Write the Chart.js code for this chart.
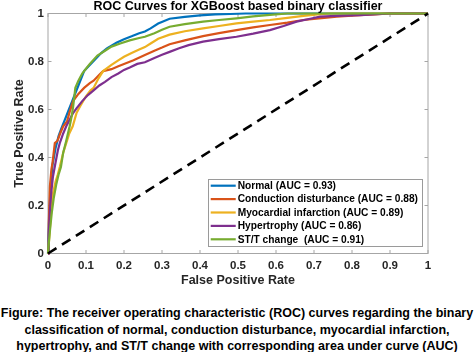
<!DOCTYPE html>
<html>
<head>
<meta charset="utf-8">
<title>ROC Curves for XGBoost based binary classifier</title>
<script src="https://cdn.jsdelivr.net/npm/chart.js@4.4.1/dist/chart.umd.min.js"></script>
<style>
    html, body { margin: 0; padding: 0; background: #fff; overflow: hidden; }
    body { width: 474px; height: 352px; position: relative; }
    #roc { position: absolute; left: 0; top: 0; }
    .caption {
        position: absolute;
        left: 237px;
        top: 305px;
        transform: translateX(-50%);
        width: max-content;
        white-space: nowrap;
        text-align: center;
        font: bold 12.5px 'Liberation Sans', Arial, sans-serif;
        line-height: 16.5px;
        color: #000;
    }
</style>
</head>
<body>
<canvas id="roc" width="474" height="292"></canvas>
<div class="caption">
    Figure: The receiver operating characteristic (ROC) curves regarding the binary<br>
    classification of normal, conduction disturbance, myocardial infarction,<br>
    hypertrophy, and ST/T change with corresponding area under curve (AUC)
</div>
<script>
const chartTitle = 'ROC Curves for XGBoost based binary classifier';
const xAxisTitle = 'False Positive Rate';
const yAxisTitle = 'True Positive Rate';
const xTickLabels = ['0', '0.1', '0.2', '0.3', '0.4', '0.5', '0.6', '0.7', '0.8', '0.9', '1'];
const yTickLabels = ['0', '0.2', '0.4', '0.6', '0.8', '1'];

const classLabels = [
    'Normal (AUC = 0.93)',
    'Conduction disturbance (AUC = 0.88)',
    'Myocardial infarction (AUC = 0.89)',
    'Hypertrophy (AUC = 0.86)',
    'ST/T change  (AUC = 0.91)',
];
const classColors = ['#0072bd', '#d95319', '#edb120', '#7e2f8e', '#77ac30'];

const normalFpr = [0, 0.003, 0.008, 0.012, 0.02, 0.028, 0.035, 0.045, 0.055, 0.065, 0.08, 0.095, 0.11, 0.125, 0.14, 0.155, 0.167, 0.18, 0.2, 0.22, 0.24, 0.255, 0.27, 0.29, 0.32, 0.36, 0.4, 0.44, 0.48, 0.52, 0.6, 1];
const normalTpr = [0, 0.15, 0.3, 0.37, 0.44, 0.49, 0.52, 0.56, 0.6, 0.64, 0.7, 0.76, 0.785, 0.81, 0.835, 0.855, 0.866, 0.878, 0.893, 0.905, 0.918, 0.925, 0.938, 0.958, 0.978, 0.986, 0.992, 0.996, 0.998, 1, 1, 1];

const conductionFpr = [0, 0.002, 0.005, 0.009, 0.012, 0.018, 0.025, 0.032, 0.04, 0.05, 0.057, 0.066, 0.08, 0.095, 0.11, 0.12, 0.135, 0.145, 0.167, 0.185, 0.2, 0.225, 0.255, 0.28, 0.3, 0.32, 0.36, 0.408, 0.45, 0.496, 0.54, 0.584, 0.63, 0.672, 0.72, 0.76, 0.81, 0.86, 0.9, 1];
const conductionTpr = [0, 0.12, 0.28, 0.35, 0.38, 0.46, 0.47, 0.5, 0.53, 0.55, 0.59, 0.635, 0.665, 0.69, 0.71, 0.72, 0.745, 0.76, 0.768, 0.78, 0.79, 0.805, 0.827, 0.845, 0.858, 0.872, 0.888, 0.906, 0.918, 0.931, 0.942, 0.952, 0.962, 0.973, 0.981, 0.987, 0.992, 0.996, 1, 1];

const infarctionFpr = [0, 0.004, 0.008, 0.013, 0.02, 0.026, 0.031, 0.04, 0.048, 0.056, 0.065, 0.075, 0.085, 0.1, 0.112, 0.12, 0.133, 0.145, 0.167, 0.185, 0.2, 0.22, 0.24, 0.255, 0.27, 0.29, 0.32, 0.36, 0.408, 0.45, 0.496, 0.54, 0.584, 0.63, 0.672, 0.71, 0.74, 1];
const infarctionTpr = [0, 0.08, 0.17, 0.25, 0.3, 0.33, 0.36, 0.42, 0.46, 0.5, 0.53, 0.585, 0.615, 0.655, 0.68, 0.69, 0.73, 0.76, 0.786, 0.805, 0.82, 0.835, 0.85, 0.86, 0.875, 0.895, 0.912, 0.926, 0.938, 0.948, 0.959, 0.966, 0.973, 0.982, 0.99, 0.996, 1, 1];

const hypertrophyFpr = [0, 0.002, 0.005, 0.009, 0.013, 0.02, 0.026, 0.031, 0.04, 0.048, 0.058, 0.066, 0.075, 0.09, 0.105, 0.12, 0.135, 0.15, 0.167, 0.185, 0.2, 0.215, 0.235, 0.255, 0.28, 0.3, 0.32, 0.345, 0.37, 0.408, 0.45, 0.496, 0.54, 0.584, 0.62, 0.654, 0.69, 0.716, 0.76, 0.82, 0.9, 1];
const hypertrophyTpr = [0, 0.08, 0.18, 0.26, 0.32, 0.38, 0.43, 0.46, 0.5, 0.53, 0.56, 0.585, 0.605, 0.635, 0.66, 0.68, 0.7, 0.715, 0.735, 0.75, 0.765, 0.775, 0.79, 0.797, 0.815, 0.828, 0.84, 0.855, 0.868, 0.883, 0.893, 0.903, 0.916, 0.931, 0.948, 0.966, 0.978, 0.987, 0.99, 0.993, 1, 1];

const stChangeFpr = [0, 0.003, 0.006, 0.01, 0.015, 0.022, 0.028, 0.034, 0.04, 0.048, 0.057, 0.062, 0.066, 0.072, 0.08, 0.09, 0.1, 0.11, 0.13, 0.15, 0.167, 0.19, 0.215, 0.24, 0.255, 0.28, 0.3, 0.32, 0.36, 0.408, 0.45, 0.496, 0.54, 0.584, 0.63, 1];
const stChangeTpr = [0, 0.06, 0.11, 0.17, 0.23, 0.29, 0.33, 0.36, 0.42, 0.47, 0.53, 0.57, 0.61, 0.69, 0.72, 0.75, 0.77, 0.79, 0.825, 0.845, 0.862, 0.875, 0.888, 0.898, 0.903, 0.918, 0.932, 0.945, 0.956, 0.966, 0.973, 0.98, 0.988, 0.994, 1, 1];

const chanceFpr = [0, 1];
const chanceTpr = [0, 1];

const fprSets = [normalFpr, conductionFpr, infarctionFpr, hypertrophyFpr, stChangeFpr];
const tprSets = [normalTpr, conductionTpr, infarctionTpr, hypertrophyTpr, stChangeTpr];

const FONT = "'Liberation Sans', Arial, sans-serif";
const AXIS_GRAY = '#a6a6a6';

function toPoints(fpr, tpr) {
    return fpr.map((x, i) => ({ x: x, y: tpr[i] }));
}

const datasets = classLabels.map((label, i) => ({
    label: label,
    data: toPoints(fprSets[i], tprSets[i]),
    borderColor: classColors[i],
    backgroundColor: classColors[i],
    borderWidth: 2.2,
    pointRadius: 0,
    showLine: true,
    tension: 0,
    clip: false,
    // later classes sit on top, like the original plot order
    order: classLabels.length - i,
}));

datasets.push({
    label: '',
    data: toPoints(chanceFpr, chanceTpr),
    borderColor: '#000',
    borderWidth: 2.6,
    borderDash: [10, 6.5],
    pointRadius: 0,
    showLine: true,
    clip: false,
    order: 0,
});

// title centred over the axes, not over the whole canvas
const axesTitle = {
    id: 'axesTitle',
    afterDraw(chart) {
        const { ctx, chartArea: a } = chart;
        ctx.save();
        ctx.font = 'bold 12.5px ' + FONT;
        ctx.fillStyle = '#000';
        ctx.textAlign = 'center';
        ctx.textBaseline = 'alphabetic';
        ctx.fillText(chartTitle, (a.left + a.right) / 2, 9.5);
        ctx.restore();
    },
};

// box round the axes with inward tick marks on all four sides
const frame = {
    id: 'frame',
    beforeDatasetsDraw(chart) {
        const { ctx, chartArea: a, scales } = chart;
        const len = 3.5;
        ctx.save();
        ctx.strokeStyle = AXIS_GRAY;
        ctx.lineWidth = 1;
        ctx.strokeRect(a.left, a.top, a.right - a.left, a.bottom - a.top);
        ctx.beginPath();
        scales.x.ticks.forEach((t) => {
            const px = scales.x.getPixelForValue(t.value);
            ctx.moveTo(px, a.bottom);
            ctx.lineTo(px, a.bottom - len);
            ctx.moveTo(px, a.top);
            ctx.lineTo(px, a.top + len);
        });
        scales.y.ticks.forEach((t) => {
            const py = scales.y.getPixelForValue(t.value);
            ctx.moveTo(a.left, py);
            ctx.lineTo(a.left + len, py);
            ctx.moveTo(a.right, py);
            ctx.lineTo(a.right - len, py);
        });
        ctx.stroke();
        ctx.restore();
    },
};

// legend drawn inside the lower right corner of the axes
const legendBox = {
    id: 'legendBox',
    afterDatasetsDraw(chart) {
        const { ctx, chartArea: a } = chart;
        const items = chart.data.datasets.filter((d) => d.label);
        const rowH = 13.4;
        ctx.save();
        ctx.font = 'bold 10.2px ' + FONT;
        const textW = Math.max(...items.map((d) => ctx.measureText(d.label).width));
        const w = 3 + 25 + 2 + textW + 4;
        const h = rowH * items.length;
        const right = a.right - 6;
        const bottom = a.bottom - 7.5;
        const left = right - w;
        const top = bottom - h;
        ctx.fillStyle = '#fff';
        ctx.fillRect(left, top, w, h);
        ctx.strokeStyle = '#9a9a9a';
        ctx.lineWidth = 1;
        ctx.strokeRect(Math.round(left) + 0.5, Math.round(top) + 0.5, Math.round(w), Math.round(h));
        items.forEach((d, i) => {
            const y = top + rowH * (i + 0.5);
            ctx.strokeStyle = d.borderColor;
            ctx.lineWidth = 2.2;
            ctx.beginPath();
            ctx.moveTo(left + 3, y);
            ctx.lineTo(left + 28, y);
            ctx.stroke();
            ctx.fillStyle = '#000';
            ctx.textBaseline = 'middle';
            ctx.fillText(d.label, left + 30, y + 0.5);
        });
        ctx.restore();
    },
};

Chart.defaults.font.family = FONT;
Chart.defaults.font.weight = 'bold';

new Chart(document.getElementById('roc'), {
    type: 'scatter',
    data: { datasets: datasets },
    options: {
        responsive: false,
        animation: false,
        devicePixelRatio: 1,
        layout: { padding: { left: 0, right: 46, top: 13.5, bottom: 0 } },
        plugins: {
            legend: { display: false },
            tooltip: { enabled: false },
            title: { display: false },
        },
        scales: {
            x: {
                type: 'linear',
                min: 0,
                max: 1,
                grid: { display: false, drawTicks: false },
                border: { display: false },
                ticks: {
                    stepSize: 0.1,
                    padding: 5,
                    autoSkip: false,
                    maxRotation: 0,
                    color: '#262626',
                    font: { size: 11.5, weight: 'bold' },
                    callback: (v, i) => xTickLabels[i],
                },
                title: {
                    display: true,
                    text: xAxisTitle,
                    color: '#262626',
                    font: { size: 12.5, weight: 'bold' },
                    padding: { top: 0, bottom: 3.5 },
                },
                afterFit: (scale) => {
                    scale.height = 38.5;
                },
            },
            y: {
                type: 'linear',
                min: 0,
                max: 1,
                grid: { display: false, drawTicks: false },
                border: { display: false },
                ticks: {
                    stepSize: 0.2,
                    padding: 4,
                    color: '#262626',
                    font: { size: 11.5, weight: 'bold' },
                    callback: (v, i) => yTickLabels[i],
                },
                title: {
                    display: true,
                    text: yAxisTitle,
                    color: '#262626',
                    font: { size: 12.5, weight: 'bold' },
                    padding: { top: 12.5, bottom: 0 },
                },
                afterFit: (scale) => {
                    scale.width = 48;
                },
            },
        },
    },
    plugins: [frame, legendBox, axesTitle],
});
</script>
</body>
</html>
